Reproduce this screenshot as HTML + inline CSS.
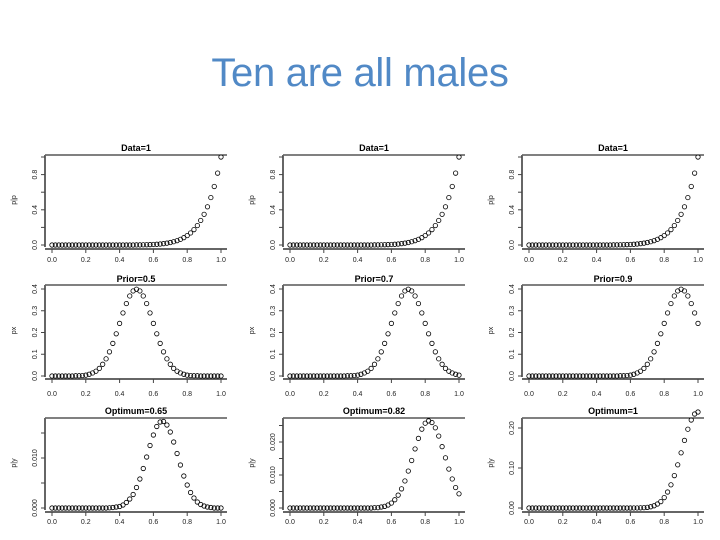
<!DOCTYPE html>
<html><head><meta charset="utf-8"><style>
html,body{margin:0;padding:0;background:#fff;width:720px;height:540px;overflow:hidden}
#title{position:absolute;left:0;top:51px;width:720px;text-align:center;font-family:"Liberation Sans",sans-serif;font-size:40px;color:#5189c6;letter-spacing:-0.3px}
svg{position:absolute;left:0;top:0}
text{font-family:"Liberation Sans",sans-serif}
</style></head><body>
<div id="title">Ten are all males</div>
<svg id="chart" width="720" height="540"></svg>
<script>
// x grid: 0 .. 1 step 0.02 (51 points)
const likelihood = [0,0,0,0,0,0,0,0,0,0,0,0,0,0,0,0,0,0,0,0,0,0,0,0,0,0.001,0.0014,0.0021,0.003,0.0043,0.006,0.0084,0.0115,0.0157,0.0211,0.0282,0.0374,0.0492,0.0643,0.0834,0.1074,0.137,0.175,0.221,0.279,0.349,0.434,0.539,0.665,0.817,1.0];
const prior05 = [0,0,0,0,0,0,0,0.001,0.001,0.002,0.004,0.008,0.014,0.022,0.035,0.054,0.079,0.111,0.150,0.194,0.242,0.290,0.333,0.368,0.391,0.399,0.391,0.368,0.333,0.290,0.242,0.194,0.150,0.111,0.079,0.054,0.035,0.022,0.014,0.008,0.004,0.002,0.001,0.001,0,0,0,0,0,0,0];
const prior07 = [0,0,0,0,0,0,0,0,0,0,0,0,0,0,0,0,0,0.001,0.001,0.002,0.004,0.008,0.014,0.022,0.035,0.054,0.079,0.111,0.150,0.194,0.242,0.290,0.333,0.368,0.391,0.399,0.391,0.368,0.333,0.290,0.242,0.194,0.150,0.111,0.079,0.054,0.035,0.022,0.014,0.008,0.004];
const prior09 = [0,0,0,0,0,0,0,0,0,0,0,0,0,0,0,0,0,0,0,0,0,0,0,0,0,0,0,0.001,0.001,0.002,0.004,0.008,0.014,0.022,0.035,0.054,0.079,0.111,0.150,0.194,0.242,0.290,0.333,0.368,0.391,0.399,0.391,0.368,0.333,0.290,0.242];
const post065 = [0,0,0,0,0,0,0,0,0,0,0,0,0,0,0,0,0,0.00004,0.0001,0.0002,0.0003,0.0006,0.0011,0.0018,0.0027,0.0041,0.0058,0.0079,0.0102,0.0125,0.0146,0.0163,0.0172,0.0173,0.0166,0.0152,0.0132,0.0109,0.0086,0.0064,0.0046,0.0031,0.0020,0.0012,0.0007,0.0004,0.0002,0.0001,0,0,0];
const post082 = [0,0,0,0,0,0,0,0,0,0,0,0,0,0,0,0,0,0,0,0,0,0,0,0,0,0.0001,0.0001,0.0003,0.0005,0.0009,0.0015,0.0025,0.0039,0.0058,0.0082,0.0112,0.0144,0.0179,0.0211,0.0239,0.0257,0.0264,0.0259,0.0243,0.0218,0.0186,0.0152,0.0118,0.0088,0.0062,0.0043];
const post1 = [0,0,0,0,0,0,0,0,0,0,0,0,0,0,0,0,0,0,0,0,0,0,0,0,0,0,0,0,0,0,0,0.0001,0.0002,0.0004,0.0008,0.0016,0.0031,0.0056,0.010,0.016,0.026,0.040,0.058,0.081,0.108,0.138,0.169,0.197,0.220,0.235,0.240];
const titles = [["Data=1","Data=1","Data=1"],["Prior=0.5","Prior=0.7","Prior=0.9"],["Optimum=0.65","Optimum=0.82","Optimum=1"]];
const series = [[likelihood,likelihood,likelihood],[prior05,prior07,prior09],[post065,post082,post1]];
const xTicks = [0,0.2,0.4,0.6,0.8,1.0];
const xTickLabels = ["0.0","0.2","0.4","0.6","0.8","1.0"];
const row1Ticks = [0,0.2,0.4,0.6,0.8,1.0], row1Labels = ["0.0","","0.4","","0.8",""];
const row2Ticks = [0,0.1,0.2,0.3,0.4], row2Labels = ["0.0","0.1","0.2","0.3","0.4"];
const r3c1Ticks = [0,0.005,0.010,0.015], r3c1Labels = ["0.000","","0.010",""];
const r3c2Ticks = [0,0.005,0.010,0.015,0.020,0.025], r3c2Labels = ["0.000","","0.010","","0.020",""];
const r3c3Ticks = [0,0.1,0.2], r3c3Labels = ["0.00","0.10","0.20"];
const yTitles = ["p|p","px","p|y"];

const svg = document.getElementById('chart');
const NS = 'http://www.w3.org/2000/svg';
function mk(tag, attrs, parent){const e=document.createElementNS(NS,tag);for(const k in attrs)e.setAttribute(k,attrs[k]);(parent||svg).appendChild(e);return e;}
const colLeft=[52,290,529];
const rows=[{top:155,y0:245,xaxis:249,xlab:262,title:151},{top:285,y0:376,xaxis:379,xlab:396,title:282},{top:418,y0:508,xaxis:512,xlab:524,title:414}];
const yScales=[[88,88,88],[217.5,217.5,217.5],[5000,3300,400]];
const yTickSets=[[row1Ticks,row1Ticks,row1Ticks],[row2Ticks,row2Ticks,row2Ticks],[r3c1Ticks,r3c2Ticks,r3c3Ticks]];
const yLabelSets=[[row1Labels,row1Labels,row1Labels],[row2Labels,row2Labels,row2Labels],[r3c1Labels,r3c2Labels,r3c3Labels]];
for(let r=0;r<3;r++){for(let c=0;c<3;c++){
  const R=rows[r], L=colLeft[c];
  const X=v=>L+v*169;
  const Y=v=>R.y0-v*yScales[r][c];
  const g=mk('g',{});
  
  
  const t=mk('text',{x:L+84,y:R.title,'text-anchor':'middle','font-size':'9','font-weight':'bold'},g);
  t.textContent=titles[r][c];
  
  
  const top=mk('line',{x1:L-7,x2:L+175,y1:R.top,y2:R.top,stroke:'#000','stroke-width':1},g);
  
  
  const ya=mk('line',{x1:L-7,x2:L-7,y1:R.top,y2:R.xaxis-2,stroke:'#666','stroke-width':2},g);
  
  
  const xa=mk('line',{x1:L-7,x2:L+175,y1:R.xaxis,y2:R.xaxis,stroke:'#666','stroke-width':2},g);
  
  
  xTicks.forEach((v,i)=>{
    mk('line',{x1:X(v),x2:X(v),y1:R.xaxis,y2:R.xaxis+4,stroke:'#444','stroke-width':1},g);
    const tl=mk('text',{x:X(v),y:R.xlab,'text-anchor':'middle','font-size':'7',fill:'#222'},g);
    tl.textContent=xTickLabels[i];
    
    
  });
  yTickSets[r][c].forEach((v,i)=>{
    mk('line',{x1:L-11,x2:L-7,y1:Y(v),y2:Y(v),stroke:'#444','stroke-width':1},g);
    const lab=yLabelSets[r][c][i];
    if(lab){const yl=mk('text',{x:0,y:0,'text-anchor':'middle','font-size':'7',fill:'#222',transform:'translate('+(L-15)+','+Y(v)+') rotate(-90)'},g);
      yl.textContent=lab;
      
      }
  });
  const yt=mk('text',{x:0,y:0,'text-anchor':'middle','font-size':'7',fill:'#222',transform:'translate('+(L-36)+','+((R.top+R.y0)/2)+') rotate(-90)'},g);
  yt.textContent=yTitles[r];
  
  
  series[r][c].forEach((v,i)=>{
    const p=mk('circle',{cx:X(i*0.02),cy:Y(v),r:2.2,fill:'none',stroke:'#000','stroke-width':0.8},g);
    
    
  });
}}
</script>
</body></html>
